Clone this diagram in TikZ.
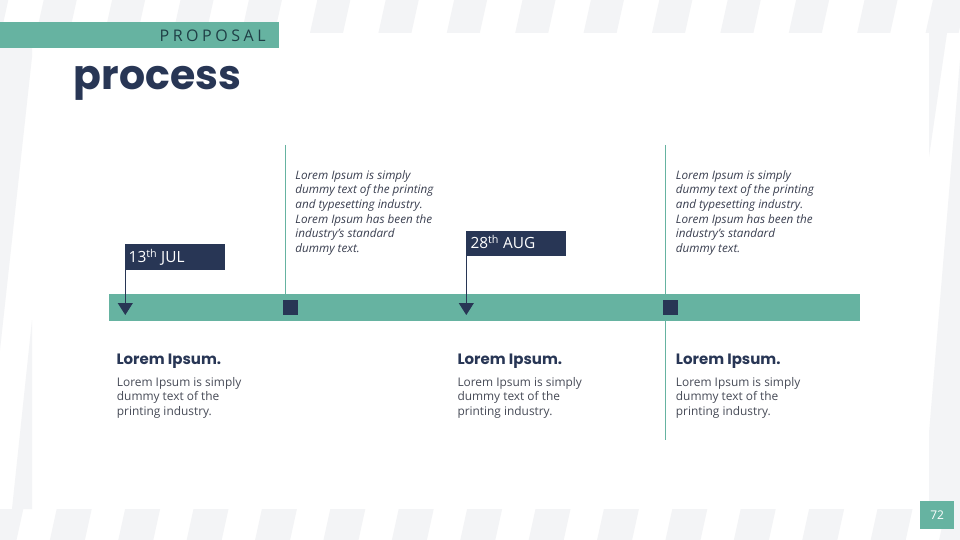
\documentclass[tikz,border=0pt]{standalone}
\usepackage{fontspec}
\setmainfont{Open Sans}
\newfontfamily\popp{Poppins}
\newfontfamily\spaced[LetterSpace=22]{Open Sans}
\usetikzlibrary{arrows.meta}
\definecolor{tealc}{HTML}{66B3A1}
\definecolor{navy}{HTML}{283655}
\definecolor{stripegray}{HTML}{F3F4F6}
\definecolor{notegray}{HTML}{3A3F50}
\definecolor{bodygray}{HTML}{474B57}
\definecolor{proptext}{HTML}{1F3F46}
\begin{document}
\begin{tikzpicture}[x=1pt,y=-1pt,
  stripe/.style={fill=stripegray, draw=none},
  datebox/.style={fill=navy, anchor=north west, minimum width=99.5pt, minimum height=25.7pt, inner sep=0pt},
  datetext/.style={anchor=base west, text=white, inner sep=0pt, font=\fontsize{15.4}{15.4}\selectfont},
  marker/.style={fill=navy, anchor=north west, minimum size=14.3pt, inner sep=0pt},
  vline/.style={draw=tealc, line width=1pt},
  pointer/.style={draw=navy, line width=1pt, -{Triangle[width=15pt,length=12pt]}},
  note/.style={anchor=base west, inner sep=0pt, align=left, text=notegray, font=\itshape\fontsize{11.7}{14.6}\selectfont},
  head/.style={anchor=base west, inner sep=0pt, text=navy, font=\popp\bfseries\fontsize{15}{15}\selectfont},
  body/.style={anchor=base west, inner sep=0pt, align=left, text=bodygray, font=\fontsize{11.9}{14.5}\selectfont},
]
\useasboundingbox (0,0) rectangle (960,540);
\fill[white] (0,0) rectangle (960,540);
% background stripes
\foreach \k in {-1,...,13} {
  \pgfmathsetmacro\xa{36.4+68.4*\k}
  \fill[stripe] (\xa,33) -- ({\xa+33},33) -- ({\xa+40.3},0) -- ({\xa+7.3},0) -- cycle;
}
\foreach \k in {0,...,14} {
  \pgfmathsetmacro\xb{-11.7+68.4*\k}
  \fill[stripe] (\xb,509) -- ({\xb+35},509) -- ({\xb+28.2},540) -- ({\xb-6.8},540) -- cycle;
}
\fill[stripe] (0,33) -- (32,33) -- (32,57) -- (0,350) -- cycle;
\fill[stripe] (32,320) -- (32,509) -- (12,509) -- cycle;
\fill[stripe] (929,33) -- (947,33) -- (929,157) -- cycle;
\fill[stripe] (960,60) -- (960,509) -- (929,509) -- (929,433) -- cycle;

% header
\node (banner) [fill=tealc, anchor=north west, minimum width=279pt, minimum height=26pt, inner sep=0pt] at (0,21.7) {};
\node (proposal) [anchor=base west, inner sep=0pt, text=proptext, font=\spaced\fontsize{16}{16}\selectfont] at (159.5,41.7) {PROPOSAL};
\node (title) [anchor=base west, inner sep=0pt, text=navy, font=\popp\bfseries\fontsize{41}{41}\selectfont] at (73.5,90) {process};

% timeline bar
\node (bar) [fill=tealc, anchor=north west, minimum width=751pt, minimum height=26.5pt, inner sep=0pt] at (108.3,294) {};

% vertical lines
\coordinate (v1top) at (285.5,145);
\coordinate (v2top) at (665.3,145);
\coordinate (v2bot) at (665.3,440);
\draw[vline] (v1top) -- (v1top |- bar.north);
\draw[vline] (v2top) -- (v2bot);

% square markers
\node (sq1) [marker] at (283.2,300) {};
\node (sq2) [marker] at (663.2,300) {};

% date labels
\node (d1) [datebox] at (124.8,244) {};
\node (d1text) [datetext] at (128.5,262.3) {13\textsuperscript{th} JUL};
\coordinate (a1) at (125.3,315);
\draw[pointer] ([xshift=0.5pt]d1.south west) -- (a1);

\node (d2) [datebox] at (465.8,230.3) {};
\node (d2text) [datetext] at (470.3,248.3) {28\textsuperscript{th} AUG};
\coordinate (a2) at (466.3,315);
\draw[pointer] ([xshift=0.5pt]d2.south west) -- (a2);

% italic notes (anchored at last baseline)
\node (n1) [note] at (295.2,252.3) {Lorem Ipsum is simply\\dummy text of the printing\\and typesetting industry.\\Lorem Ipsum has been the\\industry's standard\\dummy text.};
\node (n2) [note] at (675.7,252.3) {Lorem Ipsum is simply\\dummy text of the printing\\and typesetting industry.\\Lorem Ipsum has been the\\industry's standard\\dummy text.};

% headings and body
\node (h1) [head] at (116.3,364) {Lorem Ipsum.};
\node (b1) [body] at (116.7,415) {Lorem Ipsum is simply\\dummy text of the\\printing industry.};
\node (h2) [head] at (457.3,364) {Lorem Ipsum.};
\node (b2) [body] at (457.3,415) {Lorem Ipsum is simply\\dummy text of the\\printing industry.};
\node (h3) [head] at (675.7,364) {Lorem Ipsum.};
\node (b3) [body] at (675.7,415) {Lorem Ipsum is simply\\dummy text of the\\printing industry.};

% page number
\node (pg) [fill=tealc, anchor=north west, minimum width=34pt, minimum height=27.6pt, inner sep=0pt, text=white, font=\fontsize{12}{12}\selectfont] at (920,500.7) {72};
\end{tikzpicture}
\end{document}
